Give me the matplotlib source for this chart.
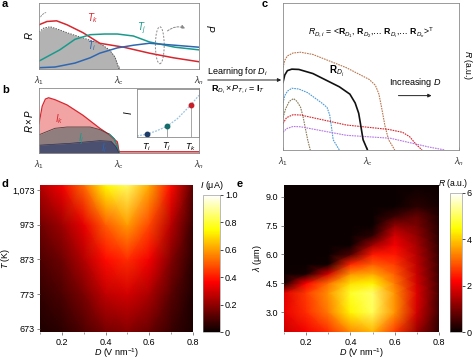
import matplotlib
matplotlib.use("Agg")
import matplotlib.pyplot as plt
import numpy as np
from matplotlib.patches import Ellipse, FancyArrowPatch

plt.rcParams["font.family"] = ["Liberation Sans", "DejaVu Sans"]
plt.rcParams["font.size"] = 6.5
plt.rcParams["mathtext.fontset"] = "custom"
plt.rcParams["mathtext.rm"] = "Liberation Sans"
plt.rcParams["mathtext.it"] = "Liberation Sans:italic"
plt.rcParams["mathtext.bf"] = "Liberation Sans:bold"

W, H = 474, 361

# ---- panel a: responsivity spectra and Planck spectra (normalised wavelength 0..1)
gray_x = [0.0, 0.03, 0.07, 0.12, 0.175, 0.275, 0.38, 0.44, 0.475, 0.50]
gray_y = [0.56, 0.62, 0.64, 0.60, 0.55, 0.47, 0.39, 0.29, 0.18, 0.0]
tk_x = [0.0, 0.05, 0.11, 0.175, 0.275, 0.38, 0.53, 0.69, 0.84, 1.0]
tk_y = [0.67, 0.72, 0.73, 0.67, 0.55, 0.39, 0.33, 0.24, 0.17, 0.11]
tj_x = [0.0, 0.13, 0.225, 0.32, 0.41, 0.49, 0.59, 0.69, 0.85, 1.0]
tj_y = [0.12, 0.29, 0.45, 0.52, 0.53, 0.53, 0.50, 0.41, 0.33, 0.29]
ti_x = [0.0, 0.10, 0.225, 0.32, 0.38, 0.49, 0.59, 0.69, 0.85, 1.0]
ti_y = [0.02, 0.03, 0.09, 0.17, 0.24, 0.32, 0.36, 0.39, 0.36, 0.33]

# ---- panel b: photocurrent spectra R x P
ik_x = [0.0, 0.02, 0.04, 0.06, 0.10, 0.175, 0.275, 0.38, 0.44, 0.49, 0.50, 1.0]
ik_y = [0.45, 0.72, 0.83, 0.85, 0.82, 0.74, 0.58, 0.38, 0.28, 0.17, 0.02, 0.02]
ij_x = [0.0, 0.10, 0.175, 0.32, 0.38, 0.44, 0.47, 0.49, 0.50]
ij_y = [0.28, 0.38, 0.40, 0.40, 0.36, 0.29, 0.22, 0.10, 0.0]
ii_x = [0.0, 0.20, 0.38, 0.45, 0.48, 0.50]
ii_y = [0.12, 0.15, 0.19, 0.18, 0.10, 0.0]

# inset: current vs temperature
inset_x = [0.0, 0.16, 0.30, 0.48, 0.65, 0.87, 1.0]
inset_y = [0.02, 0.06, 0.12, 0.22, 0.38, 0.67, 0.87]
temps_x = [0.16, 0.48, 0.87]
temps_y = [0.06, 0.22, 0.67]
temp_labels = ["$T_i$", "$T_j$", "$T_k$"]
temp_colors = ["#1d3c6a", "#146d6a", "#c81e2a"]

# ---- panel c: responsivity spectra for different D
c_curves = {
    "olive": ([0.0, 0.015, 0.035, 0.06, 0.08, 0.10, 0.115, 0.125, 0.14, 0.155],
              [0.22, 0.28, 0.33, 0.35, 0.33, 0.29, 0.22, 0.16, 0.07, 0.0]),
    "blue": ([0.0, 0.01, 0.025, 0.05, 0.09, 0.14, 0.22, 0.25, 0.265, 0.275, 0.285, 0.32],
             [0.32, 0.37, 0.40, 0.42, 0.415, 0.39, 0.32, 0.29, 0.24, 0.16, 0.07, 0.0]),
    "black": ([0.0, 0.01, 0.025, 0.05, 0.09, 0.17, 0.32, 0.38, 0.41, 0.43, 0.44, 0.455, 0.48],
              [0.46, 0.51, 0.54, 0.55, 0.548, 0.52, 0.43, 0.38, 0.32, 0.25, 0.18, 0.07, 0.0]),
    "brown": ([0.0, 0.01, 0.025, 0.057, 0.10, 0.17, 0.36, 0.49, 0.525, 0.545, 0.56, 0.58, 0.60, 0.635],
              [0.56, 0.61, 0.64, 0.66, 0.665, 0.65, 0.56, 0.48, 0.44, 0.38, 0.29, 0.16, 0.07, 0.0]),
    "red": ([0.0, 0.02, 0.057, 0.10, 0.36, 0.60, 0.68, 0.72, 0.755, 0.79],
            [0.18, 0.22, 0.24, 0.238, 0.17, 0.14, 0.12, 0.09, 0.04, 0.0]),
    "purple": ([0.0, 0.02, 0.057, 0.10, 0.36, 0.61, 0.83, 0.92],
               [0.12, 0.145, 0.16, 0.158, 0.10, 0.08, 0.02, 0.0]),
}
c_colors = {"olive": "#8c7d5a", "blue": "#4f9bd6", "black": "#111111",
            "brown": "#b9784f", "red": "#d8262c", "purple": "#b575e6"}

# ---- panel d: photocurrent map I(D, T)
d_D = [0.1, 0.2, 0.3, 0.4, 0.5, 0.6, 0.7, 0.8]
d_T = [664, 773, 873, 973, 1087]
d_I = [
    [0.03, 0.05, 0.10, 0.16, 0.18, 0.14, 0.07, 0.02],
    [0.06, 0.10, 0.17, 0.27, 0.30, 0.24, 0.12, 0.03],
    [0.10, 0.15, 0.25, 0.38, 0.43, 0.35, 0.18, 0.05],
    [0.15, 0.22, 0.33, 0.50, 0.60, 0.47, 0.26, 0.07],
    [0.25, 0.35, 0.52, 0.74, 0.84, 0.62, 0.38, 0.12],
]

# ---- panel e: responsivity map R(D, lambda)
e_D = [0.1, 0.2, 0.3, 0.4, 0.5, 0.6, 0.7, 0.8]
e_lam = [1.98, 3.0, 4.0, 4.5, 5.0, 5.5, 6.0, 6.5, 7.0, 7.5, 8.0, 8.5, 9.6]
e_R = [
    [1.7, 2.1, 2.6, 3.4, 3.8, 2.7, 1.3, 0.3],
    [2.0, 2.6, 3.3, 4.4, 5.0, 3.5, 1.8, 0.45],
    [1.9, 2.7, 3.5, 4.7, 5.1, 3.5, 1.9, 0.5],
    [0.1, 2.2, 3.2, 4.2, 4.4, 3.3, 1.8, 0.5],
    [0.0, 0.1, 1.8, 3.5, 3.7, 3.0, 1.7, 0.45],
    [0.0, 0.0, 0.05, 2.5, 3.0, 2.7, 1.6, 0.45],
    [0.0, 0.0, 0.0, 0.6, 2.4, 2.4, 1.5, 0.4],
    [0.0, 0.0, 0.0, 0.0, 1.3, 2.1, 1.4, 0.35],
    [0.0, 0.0, 0.0, 0.0, 0.3, 1.8, 1.2, 0.3],
    [0.0, 0.0, 0.0, 0.0, 0.0, 1.2, 1.0, 0.25],
    [0.0, 0.0, 0.0, 0.0, 0.0, 0.4, 0.8, 0.2],
    [0.0, 0.0, 0.0, 0.0, 0.0, 0.0, 0.3, 0.1],
    [0.0, 0.0, 0.0, 0.0, 0.0, 0.0, 0.0, 0.0],
]

SPINE = "#8a8a8a"


def px_axes(fig, x0, y0, x1, y1, **kw):
    return fig.add_axes([x0 / W, 1 - y1 / H, (x1 - x0) / W, (y1 - y0) / H], **kw)


def style_schematic(ax, xticks, xlabels):
    ax.set_xlim(0, 1)
    ax.set_ylim(0, 1)
    for sp in ax.spines.values():
        sp.set_color(SPINE)
        sp.set_linewidth(0.6)
    ax.set_yticks([])
    ax.set_xticks(xticks)
    ax.set_xticklabels(xlabels, fontsize=6.5, color="#333333")
    ax.tick_params(axis="x", direction="in", length=2, width=0.5, color=SPINE, pad=4)


fig = plt.figure(figsize=(W / 100, H / 100), dpi=100)
lam_labels = [r"$\lambda_1$", r"$\lambda_c$", r"$\lambda_n$"]

# panel a
ax_a = px_axes(fig, 39, 3, 199, 69)
style_schematic(ax_a, [0, 0.5, 1], lam_labels)
ax_a.fill_between(gray_x, gray_y, color="#b3b3b3", lw=0)
ax_a.plot(gray_x, gray_y, color="#555555", lw=0.7, ls=(0, (1.5, 1.2)))
ax_a.plot(tk_x, tk_y, color="#d7262e", lw=1.1)
ax_a.plot(tj_x, tj_y, color="#1a9a8c", lw=1.1)
ax_a.plot(ti_x, ti_y, color="#2f66b0", lw=1.1)
ax_a.text(0.30, 0.72, "$T_k$", color="#d7262e", fontsize=7)
ax_a.text(0.61, 0.57, "$T_j$", color="#1a9a8c", fontsize=7)
ax_a.text(0.30, 0.30, "$T_i$", color="#2f66b0", fontsize=7)
ax_a.add_patch(Ellipse((0.755, 0.36), 0.055, 0.56, fill=False, ec="#888888",
                       lw=0.7, ls=(0, (2, 1.5))))
ax_a.add_patch(FancyArrowPatch((0.79, 0.55), (0.93, 0.60), connectionstyle="arc3,rad=-0.35",
                               arrowstyle="-|>", mutation_scale=5, color="#888888",
                               lw=0.7, ls=(0, (2, 1.5))))
ax_a.add_patch(FancyArrowPatch((0.005, 0.75), (0.06, 0.86), connectionstyle="arc3,rad=-0.4",
                               arrowstyle="-", color="#888888", lw=0.6, ls=(0, (2, 1.5))))
ax_a.set_ylabel("$R$", fontsize=7, labelpad=3)
ax_a.text(1.03, 0.62, "$P$", rotation=270, fontsize=7, transform=ax_a.transAxes,
          ha="left", va="center")

# panel b
ax_b = px_axes(fig, 39, 88, 199, 153)
style_schematic(ax_b, [0, 0.5, 1], lam_labels)
ax_b.fill_between(ik_x, ik_y, color="#f2a3a3", lw=0)
ax_b.plot(ik_x, ik_y, color="#d7262e", lw=0.9)
ax_b.fill_between(ij_x, ij_y, color="#8b7b7b", lw=0, alpha=0.95)
ax_b.plot(ij_x, ij_y, color="#4a4040", lw=0.6)
ax_b.plot(ij_x[5:], ij_y[5:], color="#1a9a8c", lw=0.8)
ax_b.fill_between(ii_x, ii_y, color="#4b4f70", lw=0)
ax_b.plot(ii_x, ii_y, color="#2d3050", lw=0.5)
ax_b.text(0.10, 0.48, "$I_k$", color="#d7262e", fontsize=7)
ax_b.text(0.245, 0.16, "$I_j$", color="#1a9a8c", fontsize=7)
ax_b.text(0.39, 0.02, "$I_i$", color="#2f66b0", fontsize=7)
ax_b.set_ylabel(r"$R\times P$", fontsize=7, labelpad=3)

ax_in = px_axes(fig, 137, 89, 199, 137)
ax_in.set_xlim(0, 1)
ax_in.set_ylim(0, 1)
for sp in ax_in.spines.values():
    sp.set_color(SPINE)
    sp.set_linewidth(0.6)
ax_in.set_yticks([])
ax_in.set_xticks(temps_x)
ax_in.set_xticklabels(temp_labels, fontsize=6.5)
ax_in.tick_params(axis="x", length=0, pad=3)
ax_in.plot(inset_x, inset_y, color="#9cc3e0", lw=0.9, ls=(0, (1.5, 1)))
for tx, ty, tc in zip(temps_x, temps_y, temp_colors):
    ax_in.plot([tx, tx], [0, ty], color="#999999", lw=0.6)
    ax_in.plot(tx, ty, "o", color=tc, ms=3.2)
ax_in.set_ylabel("$I$", fontsize=7, labelpad=2)

# panel c
ax_c = px_axes(fig, 283, 3, 459, 150)
style_schematic(ax_c, [0, 0.48, 1], lam_labels)
for name in ["olive", "blue", "brown", "red", "purple"]:
    xs, ys = c_curves[name]
    ax_c.plot(xs, ys, color=c_colors[name], lw=0.8, ls=(0, (1.5, 0.8)))
xs, ys = c_curves["black"]
ax_c.plot(xs, ys, color=c_colors["black"], lw=1.2)
ax_c.text(0.50, 0.80,
          r"$R_{D,i}$ = <$\mathbf{R}_{D_1}$, $\mathbf{R}_{D_2}$,… $\mathbf{R}_{D_i}$,… $\mathbf{R}_{D_n}$>$^\mathrm{T}$",
          ha="center", va="center", fontsize=6.3)
ax_c.text(0.26, 0.52, r"$\mathbf{R}_{D_i}$", fontsize=7)
ax_c.text(0.75, 0.46, "Increasing $D$", ha="center", va="center", fontsize=6.5)
ax_c.annotate("", xy=(0.86, 0.37), xytext=(0.64, 0.37),
              arrowprops=dict(arrowstyle="-|>", color="#222222", lw=0.7, mutation_scale=5))
ax_c.text(1.012, 0.58, "$R$ (a.u.)", rotation=270, fontsize=6.2, transform=ax_c.transAxes,
          ha="left", va="center")

# arrow between b/a and c
fig.text(237 / W, 1 - 72 / H, "Learning for $D_i$", ha="center", va="center", fontsize=6.5)
fig.text(238 / W, 1 - 90 / H, r"$\mathbf{R}_{D_i}\times P_{T,i}$ = $\mathbf{I}_T$",
         ha="center", va="center", fontsize=6.5)
fig.add_artist(FancyArrowPatch((205 / W, 1 - 80 / H), (284 / W, 1 - 80 / H),
                               transform=fig.transFigure, arrowstyle="-|>",
                               mutation_scale=5, color="#222222", lw=0.7))


def style_map(ax):
    for sp in ax.spines.values():
        sp.set_visible(False)
    ax.tick_params(direction="out", length=2.5, width=0.5, color="#555555", pad=1.5,
                   labelsize=6.5)
    ax.set_xticks([0.2, 0.4, 0.6, 0.8])
    ax.set_xticks([0.1, 0.3, 0.5, 0.7], minor=True)
    ax.tick_params(which="minor", length=1.5, width=0.4, color="#555555")
    ax.set_xlabel(r"$D$ (V nm$^{-1}$)", fontsize=6.5, labelpad=0)


def style_cbar(cb):
    cb.outline.set_linewidth(0.4)
    cb.outline.set_edgecolor("#888888")
    cb.ax.tick_params(length=2, width=0.5, labelsize=6.5, pad=1.5)


# panel d
ax_d = px_axes(fig, 40, 185, 193, 332)
mesh_d = ax_d.pcolormesh(d_D, d_T, np.array(d_I), shading="gouraud", cmap="hot",
                         vmin=0, vmax=1.0)
ax_d.set_xlim(0.1, 0.8)
ax_d.set_ylim(664, 1087)
style_map(ax_d)
ax_d.set_yticks([673, 773, 873, 973, 1073])
ax_d.set_yticklabels(["673", "773", "873", "973", "1,073"])
ax_d.set_ylabel("$T$ (K)", fontsize=6.5, labelpad=0)
cax_d = px_axes(fig, 203, 195, 220, 332)
cb_d = fig.colorbar(mesh_d, cax=cax_d, ticks=[0, 0.2, 0.4, 0.6, 0.8, 1.0])
cb_d.ax.set_yticklabels(["0", "0.2", "0.4", "0.6", "0.8", "1.0"])
style_cbar(cb_d)
fig.text(212 / W, 1 - 186 / H, r"$I$ (μA)", ha="center", va="center", fontsize=6.5)

# panel e
ax_e = px_axes(fig, 284, 185, 439, 332)
mesh_e = ax_e.pcolormesh(e_D, e_lam, np.array(e_R), shading="gouraud", cmap="hot",
                         vmin=0, vmax=6)
ax_e.set_xlim(0.1, 0.8)
ax_e.set_ylim(1.98, 9.6)
style_map(ax_e)
ax_e.set_yticks([3.0, 4.5, 6.0, 7.5, 9.0])
ax_e.set_yticklabels(["3.0", "4.5", "6.0", "7.5", "9.0"])
ax_e.set_ylabel(r"$\lambda$ (μm)", fontsize=6.5, labelpad=1)
cax_e = px_axes(fig, 450, 193, 462, 332)
cb_e = fig.colorbar(mesh_e, cax=cax_e, ticks=[0, 2, 4, 6])
style_cbar(cb_e)
fig.text(453 / W, 1 - 183 / H, "$R$ (a.u.)", ha="center", va="center", fontsize=6.2)

# panel letters
for lbl, x, y in [("a", 2, 4), ("b", 2, 90), ("c", 262, 4), ("d", 2, 184), ("e", 237, 184)]:
    fig.text(x / W, 1 - y / H, lbl, fontsize=8, fontweight="bold", ha="left", va="center")

fig.savefig("out.png", dpi=100)
